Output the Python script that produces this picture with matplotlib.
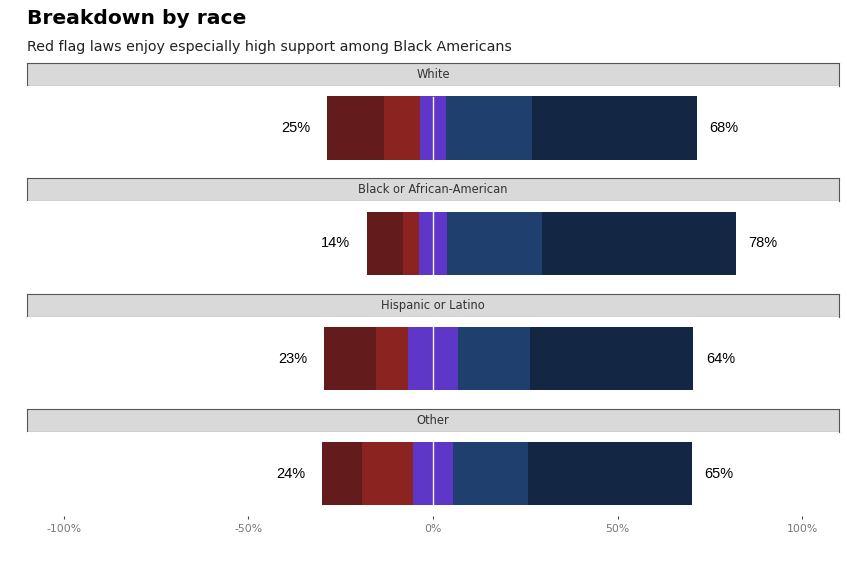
import matplotlib
matplotlib.use("Agg")
import matplotlib.pyplot as plt
import numpy as np

# data (percent of respondents)
groups = ["White", "Black or African-American", "Hispanic or Latino", "Other"]
strong_oppose = [15.2, 9.8, 14.2, 10.6]
some_oppose = [10.0, 4.2, 8.7, 13.8]
neutral = [6.8, 7.8, 13.3, 11.1]
some_support = [23.3, 25.7, 19.5, 20.1]
strong_support = [44.7, 52.5, 44.4, 44.4]
oppose_labels = ["25%", "14%", "23%", "24%"]
support_labels = ["68%", "78%", "64%", "65%"]

colors = ["#641b1b", "#8b2420", "#5e37c9", "#1f406f", "#132744"]

W, H = 847, 569
fig = plt.figure(figsize=(W / 100, H / 100), dpi=100)
fig.patch.set_facecolor("white")

def fx(px):
    return px / W

def fy(py):
    return 1 - py / H

fig.text(fx(27), fy(18), "Breakdown by race", fontsize=14.6, fontweight="bold",
         family="DejaVu Sans", va="center", ha="left", color="black")
fig.text(fx(27), fy(47), "Red flag laws enjoy especially high support among Black Americans",
         fontsize=10.3, family="DejaVu Sans", va="center", ha="left", color="#222222")

left_px, right_px = 27, 839
step = 115.3
bar_h = 0.9
for i, g in enumerate(groups):
    strip_top = 63 + step * i
    panel_top = strip_top + 23
    panel_bot = panel_top + 84
    sax = fig.add_axes([fx(left_px), fy(panel_top), fx(right_px - left_px), 23 / H])
    sax.set_facecolor("#d9d9d9")
    sax.set_xticks([])
    sax.set_yticks([])
    for sp in sax.spines.values():
        sp.set_color("#555555")
        sp.set_linewidth(0.8)
    sax.text(0.5, 0.5, g, ha="center", va="center", fontsize=8.3,
             family="DejaVu Sans", color="#333333", transform=sax.transAxes)

    ax = fig.add_axes([fx(left_px), fy(panel_bot), fx(right_px - left_px), 84 / H])
    ax.set_xlim(-110, 110)
    ax.set_ylim(0.4, 1.6)
    vals = [strong_oppose[i], some_oppose[i], neutral[i], some_support[i], strong_support[i]]
    start = -(strong_oppose[i] + some_oppose[i] + neutral[i] / 2)
    x = start
    for v, c in zip(vals, colors):
        ax.barh(1, v, left=x, height=bar_h, color=c, edgecolor="none")
        x += v
    end = x
    ax.axvline(0, ymin=(1 - bar_h / 2 - 0.4) / 1.2, ymax=(1 + bar_h / 2 - 0.4) / 1.2,
               color="#f4f0ff", lw=1.0)
    ax.annotate(oppose_labels[i], (start, 1), xytext=(-12, 0), textcoords="offset points",
                ha="right", va="center", fontsize=10.5, family="Liberation Sans", color="black")
    ax.annotate(support_labels[i], (end, 1), xytext=(9, 0), textcoords="offset points",
                ha="left", va="center", fontsize=10.5, family="Liberation Sans", color="black")
    for sp in ax.spines.values():
        sp.set_visible(False)
    ax.set_yticks([])
    if i == len(groups) - 1:
        ticks = [-100, -50, 0, 50, 100]
        ax.set_xticks(ticks)
        ax.set_xticklabels([f"{t}%" for t in ticks], family="DejaVu Sans", fontsize=7.8, color="#777777")
        ax.tick_params(axis="x", length=2.5, color="#444444", width=0.8, pad=3)
    else:
        ax.set_xticks([])

fig.savefig("out.png", dpi=100, facecolor="white")
